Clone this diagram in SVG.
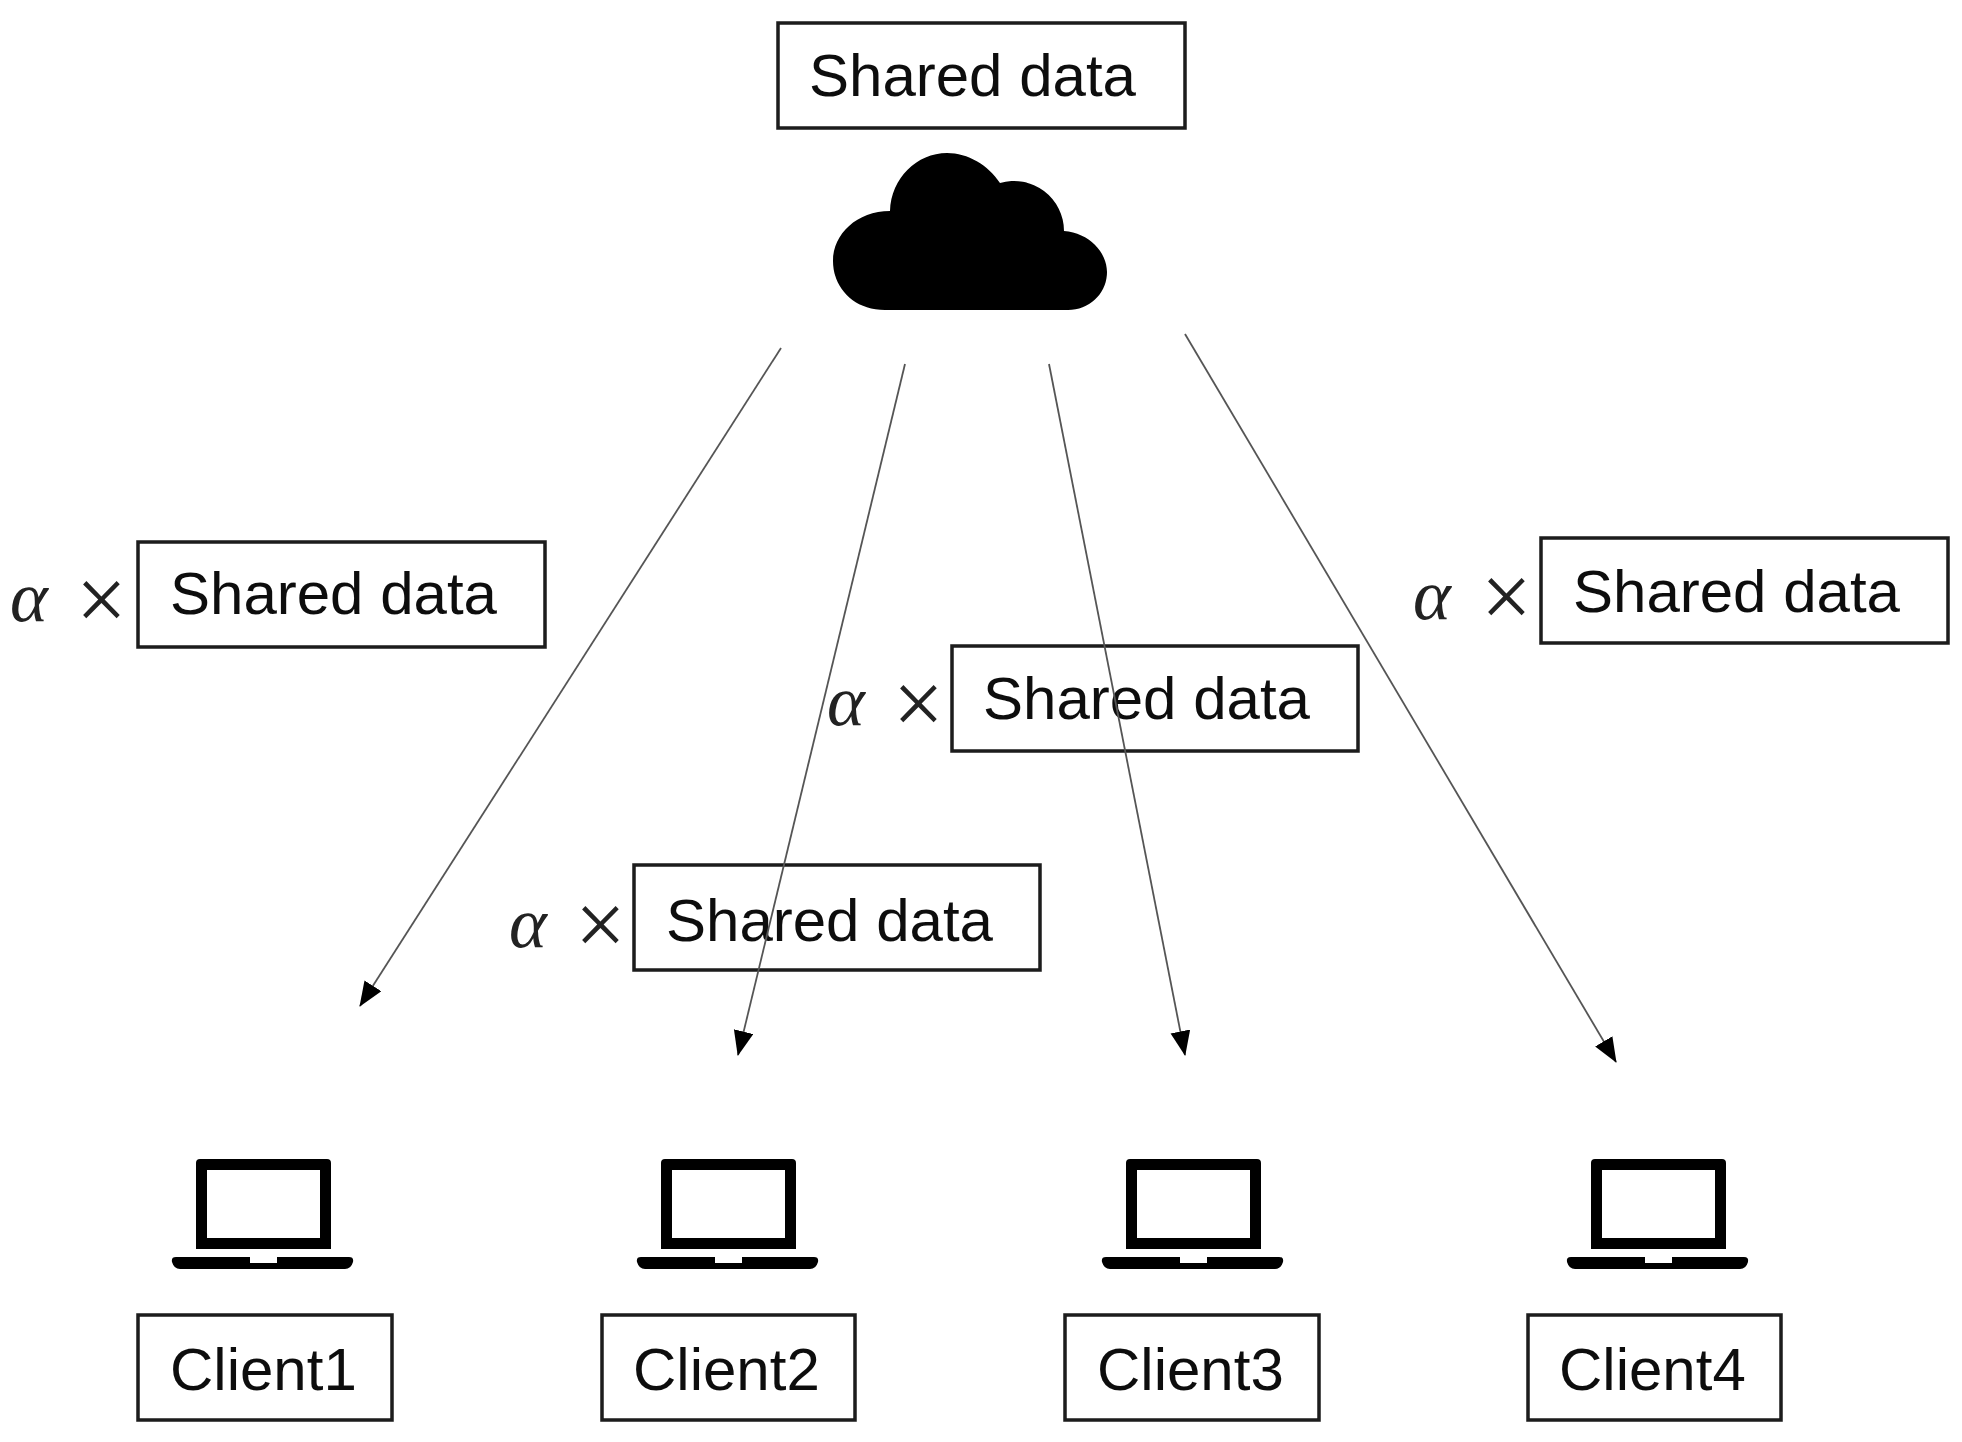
<svg xmlns="http://www.w3.org/2000/svg" width="1962" height="1442" viewBox="0 0 1962 1442">
<style>
.box{fill:#fff;stroke:#1a1a1a;stroke-width:3.5}
.t{font-family:"Liberation Sans",Arial,sans-serif;font-size:60px;fill:#111}
.a{font-family:"Liberation Serif","Times New Roman",serif;font-style:italic;font-size:72px;fill:#222}
.x{font-family:"Liberation Serif","Times New Roman",serif;font-size:90px;fill:#222}
.c{stroke:#555;stroke-width:1.8;fill:none;marker-end:url(#ah)}
.soft{filter:url(#soft)}
</style>
<defs>
<filter id="soft" x="0" y="0" width="100%" height="100%" filterUnits="userSpaceOnUse" primitiveUnits="userSpaceOnUse"><feGaussianBlur stdDeviation="0.7"/></filter>
<marker id="ah" markerUnits="userSpaceOnUse" markerWidth="30" markerHeight="30" refX="24" refY="10" orient="auto"><path d="M0 0L25 10L0 20Z" fill="#000"/></marker>
<g id="laptop">
<path fill-rule="evenodd" d="M200 1159H327Q331 1159 331 1163V1249H196V1163Q196 1159 200 1159ZM207 1170V1238H320V1170Z" fill="#000"/>
<path d="M176 1257H250V1263H277V1257H349Q354 1257 353 1262Q351 1269 345 1269H180Q174 1269 172 1262Q171 1257 176 1257Z" fill="#000"/>
</g>
<path id="cloudshape" d="M885 310C853 310 833 287 833 261C833 234 857 211 890 211C891 178 917 153 947 153C968 153 988 165 1000 183A50 50 0 0 1 1064 231C1089 233 1107 252 1107 272C1107 293 1090 310 1068 310Z" fill="#000"/>
</defs>
<rect width="1962" height="1442" fill="#fff"/>
<g class="soft">
<g id="shared-top"><rect class="box" x="778" y="23" width="407" height="105"/><text class="t" x="809" y="96">Shared data</text></g>
<g id="cloud"><use href="#cloudshape"/></g>
<g id="shared-1"><rect class="box" x="138" y="542" width="407" height="105"/><text class="t" x="170" y="614">Shared data</text><text class="a" x="10" y="621">α</text><text class="x" x="76" y="630">×</text></g>
<g id="shared-2"><rect class="box" x="634" y="865" width="406" height="105"/><text class="t" x="666" y="941">Shared data</text><text class="a" x="509" y="947">α</text><text class="x" x="575" y="955">×</text></g>
<g id="shared-3"><rect class="box" x="952" y="646" width="406" height="105"/><text class="t" x="983" y="719">Shared data</text><text class="a" x="827" y="725">α</text><text class="x" x="893" y="734">×</text></g>
<g id="shared-4"><rect class="box" x="1541" y="538" width="407" height="105"/><text class="t" x="1573" y="612">Shared data</text><text class="a" x="1413" y="619">α</text><text class="x" x="1481" y="627">×</text></g>
<g id="connectors">
<line class="c" x1="781" y1="348" x2="360" y2="1006"/>
<line class="c" x1="905" y1="364" x2="738" y2="1055"/>
<line class="c" x1="1049" y1="364" x2="1185" y2="1055"/>
<line class="c" x1="1185" y1="334" x2="1616" y2="1062"/>
</g>
<g id="client1"><use href="#laptop"/><rect class="box" x="138" y="1315" width="254" height="105"/><text class="t" x="170" y="1390">Client1</text></g>
<g id="client2"><use href="#laptop" x="465"/><rect class="box" x="602" y="1315" width="253" height="105"/><text class="t" x="633" y="1390">Client2</text></g>
<g id="client3"><use href="#laptop" x="930"/><rect class="box" x="1065" y="1315" width="254" height="105"/><text class="t" x="1097" y="1390">Client3</text></g>
<g id="client4"><use href="#laptop" x="1395"/><rect class="box" x="1528" y="1315" width="253" height="105"/><text class="t" x="1559" y="1390">Client4</text></g>
</g>
</svg>
